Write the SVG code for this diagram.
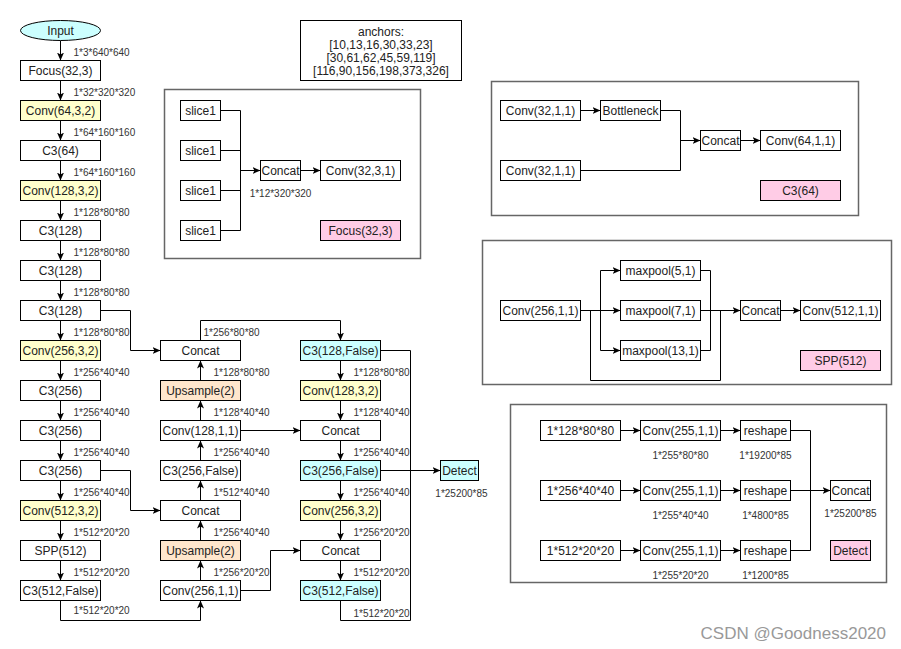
<svg xmlns="http://www.w3.org/2000/svg" width="901" height="649" viewBox="0 0 901 649">
<style>
.b{fill:#fff;stroke:#000;stroke-width:1}
.y{fill:#ffffcc;stroke:#000;stroke-width:1}
.c{fill:#ccffff;stroke:#000;stroke-width:1}
.o{fill:#ffe6cc;stroke:#000;stroke-width:1}
.p{fill:#ffcce6;stroke:#000;stroke-width:1}
.g{fill:#fff;stroke:#666;stroke-width:1.5}
text{font-family:"Liberation Sans",Arial,sans-serif;fill:#222}
.t{font-size:12px;text-anchor:middle}
.s{font-size:10px;fill:#333}
.sm{font-size:10px;fill:#333;text-anchor:middle}
.l{fill:none;stroke:#000;stroke-width:1}
.a{fill:none;stroke:#000;stroke-width:1;marker-end:url(#ar)}
</style>
<defs>
<marker id="ar" markerUnits="userSpaceOnUse" markerWidth="10" markerHeight="8" refX="8" refY="3.5" orient="auto">
<path d="M0,0 L8,3.5 L0,7 L2,3.5 z" fill="#000"/>
</marker>
</defs>
<rect width="901" height="649" fill="#fff"/>
<g transform="translate(0.5,0.5)">
<g id="focus-detail">
<rect class="g" x="164" y="89" width="256" height="169"/>
</g>
<g id="c3-detail">
<rect class="g" x="491" y="81" width="367" height="134"/>
</g>
<g id="spp-detail">
<rect class="g" x="482" y="240" width="409" height="144"/>
</g>
<g id="detect-detail">
<rect class="g" x="510" y="404" width="376" height="178"/>
</g>

<g id="connectors">
<path class="a" d="M60,40V60"/>
<path class="a" d="M60,80V100"/>
<path class="a" d="M60,120V140"/>
<path class="a" d="M60,160V180"/>
<path class="a" d="M60,200V220"/>
<path class="a" d="M60,240V260"/>
<path class="a" d="M60,280V300"/>
<path class="a" d="M60,320V340"/>
<path class="a" d="M60,360V380"/>
<path class="a" d="M60,400V420"/>
<path class="a" d="M60,440V460"/>
<path class="a" d="M60,480V500"/>
<path class="a" d="M60,520V540"/>
<path class="a" d="M60,560V580"/>
<path class="a" d="M100,310H130V350H160"/>
<path class="a" d="M100,470H130V510H160"/>
<path class="a" d="M60,600V620H200V600"/>
<path class="a" d="M200,580V560"/>
<path class="a" d="M200,540V520"/>
<path class="a" d="M200,500V480"/>
<path class="a" d="M200,460V440"/>
<path class="a" d="M200,420V400"/>
<path class="a" d="M200,380V360"/>
<path class="a" d="M200,340V320H340V340"/>
<path class="a" d="M240,430H300"/>
<path class="a" d="M240,590H270V550H300"/>
<path class="a" d="M340,360V380"/>
<path class="a" d="M340,400V420"/>
<path class="a" d="M340,440V460"/>
<path class="a" d="M340,480V500"/>
<path class="a" d="M340,520V540"/>
<path class="a" d="M340,560V580"/>
<path class="l" d="M380,350H410V620H340V600"/>
<path class="a" d="M380,470H440"/>
<path class="l" d="M220,110H240V230H220"/>
<path class="l" d="M220,150H240"/>
<path class="l" d="M220,190H240"/>
<path class="a" d="M240,170H260"/>
<path class="a" d="M300,170H320"/>
<path class="a" d="M580,110H600"/>
<path class="l" d="M660,110H680V170H580"/>
<path class="a" d="M680,140H700"/>
<path class="a" d="M740,140H760"/>
<path class="a" d="M580,310H620"/>
<path class="l" d="M600,270V350"/>
<path class="a" d="M600,270H620"/>
<path class="a" d="M600,350H620"/>
<path class="l" d="M590,310V380H720V310"/>
<path class="l" d="M700,270H710V350H700"/>
<path class="a" d="M700,310H740"/>
<path class="a" d="M780,310H800"/>
<path class="a" d="M620,430H640"/>
<path class="a" d="M720,430H740"/>
<path class="a" d="M620,490H640"/>
<path class="a" d="M720,490H740"/>
<path class="a" d="M620,550H640"/>
<path class="a" d="M720,550H740"/>
<path class="l" d="M790,430H810V550H790"/>
<path class="a" d="M790,490H830"/>
</g>

<g id="labels">
<text class="s" x="73" y="55">1*3*640*640</text>
<text class="s" x="73" y="95">1*32*320*320</text>
<text class="s" x="73" y="135">1*64*160*160</text>
<text class="s" x="73" y="175">1*64*160*160</text>
<text class="s" x="73" y="215">1*128*80*80</text>
<text class="s" x="73" y="255">1*128*80*80</text>
<text class="s" x="73" y="295">1*128*80*80</text>
<text class="s" x="73" y="335">1*128*80*80</text>
<text class="s" x="73" y="375">1*256*40*40</text>
<text class="s" x="73" y="415">1*256*40*40</text>
<text class="s" x="73" y="455">1*256*40*40</text>
<text class="s" x="73" y="495">1*256*40*40</text>
<text class="s" x="73" y="535">1*512*20*20</text>
<text class="s" x="73" y="575">1*512*20*20</text>
<text class="s" x="73" y="613">1*512*20*20</text>
<text class="s" x="203" y="335">1*256*80*80</text>
<text class="s" x="213" y="375">1*128*80*80</text>
<text class="s" x="213" y="415">1*128*40*40</text>
<text class="s" x="213" y="455">1*256*40*40</text>
<text class="s" x="213" y="495">1*512*40*40</text>
<text class="s" x="213" y="535">1*256*40*40</text>
<text class="s" x="213" y="575">1*256*20*20</text>
<text class="s" x="353" y="375">1*128*80*80</text>
<text class="s" x="353" y="415">1*128*40*40</text>
<text class="s" x="353" y="455">1*256*40*40</text>
<text class="s" x="353" y="495">1*256*40*40</text>
<text class="s" x="353" y="535">1*256*20*20</text>
<text class="s" x="353" y="575">1*512*20*20</text>
<text class="s" x="353" y="616">1*512*20*20</text>
<text class="sm" x="461" y="496">1*25200*85</text>
<text class="sm" x="280" y="196">1*12*320*320</text>
<text class="sm" x="680" y="458">1*255*80*80</text>
<text class="sm" x="765" y="458">1*19200*85</text>
<text class="sm" x="680" y="518">1*255*40*40</text>
<text class="sm" x="765" y="518">1*4800*85</text>
<text class="sm" x="680" y="578">1*255*20*20</text>
<text class="sm" x="765" y="578">1*1200*85</text>
<text class="sm" x="850" y="516">1*25200*85</text>
</g>

<g id="input"><ellipse class="c" cx="60" cy="30" rx="40" ry="10"/><text class="t" x="60" y="34">Input</text></g>
<g id="focus"><rect class="b" x="20" y="60" width="80" height="20"/><text class="t" x="60" y="74">Focus(32,3)</text></g>
<g id="conv1"><rect class="y" x="20" y="100" width="80" height="20"/><text class="t" x="60" y="114">Conv(64,3,2)</text></g>
<g id="c3-1"><rect class="b" x="20" y="140" width="80" height="20"/><text class="t" x="60" y="154">C3(64)</text></g>
<g id="conv2"><rect class="y" x="20" y="180" width="80" height="20"/><text class="t" x="60" y="194">Conv(128,3,2)</text></g>
<g id="c3-2a"><rect class="b" x="20" y="220" width="80" height="20"/><text class="t" x="60" y="234">C3(128)</text></g>
<g id="c3-2b"><rect class="b" x="20" y="260" width="80" height="20"/><text class="t" x="60" y="274">C3(128)</text></g>
<g id="c3-2c"><rect class="b" x="20" y="300" width="80" height="20"/><text class="t" x="60" y="314">C3(128)</text></g>
<g id="conv3"><rect class="y" x="20" y="340" width="80" height="20"/><text class="t" x="60" y="354">Conv(256,3,2)</text></g>
<g id="c3-3a"><rect class="b" x="20" y="380" width="80" height="20"/><text class="t" x="60" y="394">C3(256)</text></g>
<g id="c3-3b"><rect class="b" x="20" y="420" width="80" height="20"/><text class="t" x="60" y="434">C3(256)</text></g>
<g id="c3-3c"><rect class="b" x="20" y="460" width="80" height="20"/><text class="t" x="60" y="474">C3(256)</text></g>
<g id="conv4"><rect class="y" x="20" y="500" width="80" height="20"/><text class="t" x="60" y="514">Conv(512,3,2)</text></g>
<g id="spp"><rect class="b" x="20" y="540" width="80" height="20"/><text class="t" x="60" y="554">SPP(512)</text></g>
<g id="c3-4"><rect class="b" x="20" y="580" width="80" height="20"/><text class="t" x="60" y="594">C3(512,False)</text></g>

<g id="m-concat1"><rect class="b" x="160" y="340" width="80" height="20"/><text class="t" x="200" y="354">Concat</text></g>
<g id="m-up1"><rect class="o" x="160" y="380" width="80" height="20"/><text class="t" x="200" y="394">Upsample(2)</text></g>
<g id="m-conv1"><rect class="b" x="160" y="420" width="80" height="20"/><text class="t" x="200" y="434">Conv(128,1,1)</text></g>
<g id="m-c3"><rect class="b" x="160" y="460" width="80" height="20"/><text class="t" x="200" y="474">C3(256,False)</text></g>
<g id="m-concat2"><rect class="b" x="160" y="500" width="80" height="20"/><text class="t" x="200" y="514">Concat</text></g>
<g id="m-up2"><rect class="o" x="160" y="540" width="80" height="20"/><text class="t" x="200" y="554">Upsample(2)</text></g>
<g id="m-conv2"><rect class="b" x="160" y="580" width="80" height="20"/><text class="t" x="200" y="594">Conv(256,1,1)</text></g>

<g id="r-c3a"><rect class="c" x="300" y="340" width="80" height="20"/><text class="t" x="340" y="354">C3(128,False)</text></g>
<g id="r-conv1"><rect class="y" x="300" y="380" width="80" height="20"/><text class="t" x="340" y="394">Conv(128,3,2)</text></g>
<g id="r-concat1"><rect class="b" x="300" y="420" width="80" height="20"/><text class="t" x="340" y="434">Concat</text></g>
<g id="r-c3b"><rect class="c" x="300" y="460" width="80" height="20"/><text class="t" x="340" y="474">C3(256,False)</text></g>
<g id="r-conv2"><rect class="y" x="300" y="500" width="80" height="20"/><text class="t" x="340" y="514">Conv(256,3,2)</text></g>
<g id="r-concat2"><rect class="b" x="300" y="540" width="80" height="20"/><text class="t" x="340" y="554">Concat</text></g>
<g id="r-c3c"><rect class="c" x="300" y="580" width="80" height="20"/><text class="t" x="340" y="594">C3(512,False)</text></g>
<g id="detect"><rect class="c" x="440" y="460" width="38" height="20"/><text class="t" x="459" y="474">Detect</text></g>

<g id="anchors"><rect class="b" x="300" y="20" width="161" height="60"/>
<text class="t" x="380.5" y="35">anchors:</text>
<text class="t" x="380.5" y="48">[10,13,16,30,33,23]</text>
<text class="t" x="380.5" y="61">[30,61,62,45,59,119]</text>
<text class="t" x="380.5" y="74">[116,90,156,198,373,326]</text>
</g>

<g id="f-s1"><rect class="b" x="180" y="100" width="40" height="20"/><text class="t" x="200" y="114">slice1</text></g>
<g id="f-s2"><rect class="b" x="180" y="140" width="40" height="20"/><text class="t" x="200" y="154">slice1</text></g>
<g id="f-s3"><rect class="b" x="180" y="180" width="40" height="20"/><text class="t" x="200" y="194">slice1</text></g>
<g id="f-s4"><rect class="b" x="180" y="220" width="40" height="20"/><text class="t" x="200" y="234">slice1</text></g>
<g id="f-concat"><rect class="b" x="260" y="160" width="40" height="20"/><text class="t" x="280" y="174">Concat</text></g>
<g id="f-conv"><rect class="b" x="320" y="160" width="80" height="20"/><text class="t" x="360" y="174">Conv(32,3,1)</text></g>
<g id="f-title"><rect class="p" x="320" y="220" width="80" height="20"/><text class="t" x="360" y="234">Focus(32,3)</text></g>

<g id="c-conv1"><rect class="b" x="500" y="100" width="80" height="20"/><text class="t" x="540" y="114">Conv(32,1,1)</text></g>
<g id="c-bneck"><rect class="b" x="600" y="100" width="60" height="20"/><text class="t" x="630" y="114">Bottleneck</text></g>
<g id="c-conv2"><rect class="b" x="500" y="160" width="80" height="20"/><text class="t" x="540" y="174">Conv(32,1,1)</text></g>
<g id="c-concat"><rect class="b" x="700" y="130" width="40" height="20"/><text class="t" x="720" y="144">Concat</text></g>
<g id="c-conv3"><rect class="b" x="760" y="130" width="80" height="20"/><text class="t" x="800" y="144">Conv(64,1,1)</text></g>
<g id="c-title"><rect class="p" x="760" y="180" width="80" height="20"/><text class="t" x="800" y="194">C3(64)</text></g>

<g id="s-conv1"><rect class="b" x="500" y="300" width="80" height="20"/><text class="t" x="540" y="314">Conv(256,1,1)</text></g>
<g id="s-mp5"><rect class="b" x="620" y="260" width="80" height="20"/><text class="t" x="660" y="274">maxpool(5,1)</text></g>
<g id="s-mp7"><rect class="b" x="620" y="300" width="80" height="20"/><text class="t" x="660" y="314">maxpool(7,1)</text></g>
<g id="s-mp13"><rect class="b" x="620" y="340" width="80" height="20"/><text class="t" x="660" y="354">maxpool(13,1)</text></g>
<g id="s-concat"><rect class="b" x="740" y="300" width="40" height="20"/><text class="t" x="760" y="314">Concat</text></g>
<g id="s-conv2"><rect class="b" x="800" y="300" width="80" height="20"/><text class="t" x="840" y="314">Conv(512,1,1)</text></g>
<g id="s-title"><rect class="p" x="800" y="350" width="80" height="20"/><text class="t" x="840" y="364">SPP(512)</text></g>

<g id="d-in1"><rect class="b" x="540" y="420" width="80" height="20"/><text class="t" x="580" y="434">1*128*80*80</text></g>
<g id="d-in2"><rect class="b" x="540" y="480" width="80" height="20"/><text class="t" x="580" y="494">1*256*40*40</text></g>
<g id="d-in3"><rect class="b" x="540" y="540" width="80" height="20"/><text class="t" x="580" y="554">1*512*20*20</text></g>
<g id="d-conv1"><rect class="b" x="640" y="420" width="80" height="20"/><text class="t" x="680" y="434">Conv(255,1,1)</text></g>
<g id="d-conv2"><rect class="b" x="640" y="480" width="80" height="20"/><text class="t" x="680" y="494">Conv(255,1,1)</text></g>
<g id="d-conv3"><rect class="b" x="640" y="540" width="80" height="20"/><text class="t" x="680" y="554">Conv(255,1,1)</text></g>
<g id="d-rs1"><rect class="b" x="740" y="420" width="50" height="20"/><text class="t" x="765" y="434">reshape</text></g>
<g id="d-rs2"><rect class="b" x="740" y="480" width="50" height="20"/><text class="t" x="765" y="494">reshape</text></g>
<g id="d-rs3"><rect class="b" x="740" y="540" width="50" height="20"/><text class="t" x="765" y="554">reshape</text></g>
<g id="d-concat"><rect class="b" x="830" y="480" width="40" height="20"/><text class="t" x="850" y="494">Concat</text></g>
<g id="d-title"><rect class="p" x="830" y="540" width="40" height="20"/><text class="t" x="850" y="554">Detect</text></g>
</g>
<text x="886" y="639" style="font-size:17px;fill:#999;text-anchor:end">CSDN @Goodness2020</text>
</svg>
